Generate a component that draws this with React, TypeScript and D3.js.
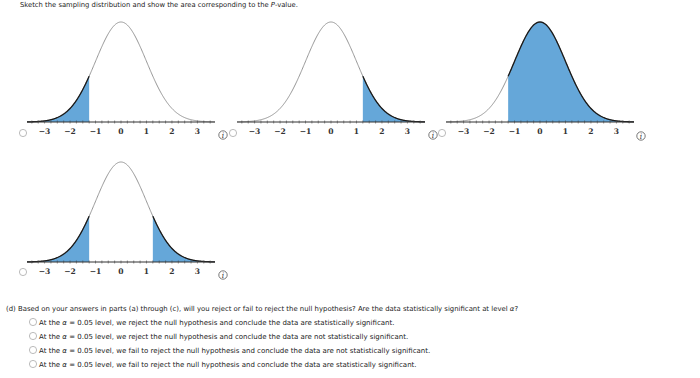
import React from "react";
import * as d3 from "d3";

const W = 700;
const H = 378;

const title = "Sketch the sampling distribution and show the area corresponding to the ";
const tickLabels = [-3, -2, -1, 0, 1, 2, 3];
const cutoff = 1.25;
const panelNames = ["left", "right", "above", "twoTail"];
const panelLeft = [27, 237, 446, 27];
const panelBase = [122, 122, 122, 262];
const question = "(d)  Based on your answers in parts (a) through (c), will you reject or fail to reject the null hypothesis? Are the data statistically significant at level ";
const options = [
  "we reject the null hypothesis and conclude the data are statistically significant.",
  "we reject the null hypothesis and conclude the data are not statistically significant.",
  "we fail to reject the null hypothesis and conclude the data are not statistically significant.",
  "we fail to reject the null hypothesis and conclude the data are statistically significant.",
];

const ZMAX = 3.69;
const pdf = (z: number) => Math.exp(-z * z / 2) / Math.sqrt(2 * Math.PI);
const zs = d3.range(-ZMAX, ZMAX + 0.0001, 0.02);
const minorTicks = d3.range(-3.5, 3.5001, 0.25);

function shadeRanges(type: string): [number, number][] {
  if (type === "left") return [[-ZMAX, -cutoff]];
  if (type === "right") return [[cutoff, ZMAX]];
  if (type === "above") return [[-cutoff, ZMAX]];
  return [[-ZMAX, -cutoff], [cutoff, ZMAX]];
}

function Panel({ type, left, base }: { type: string; left: number; base: number }) {
  const x = d3.scaleLinear().domain([-ZMAX, ZMAX]).range([left, left + 188]);
  const y = d3.scaleLinear().domain([0, pdf(0)]).range([base, base - 100]);
  const line = d3.line<number>().x((z) => x(z)).y((z) => y(pdf(z)));
  const area = d3.area<number>().x((z) => x(z)).y0(base).y1((z) => y(pdf(z)));
  const ranges = shadeRanges(type);
  return (
    <g>
      {ranges.map(([a, b], i) => {
        const pts = [a, ...zs.filter((z) => z > a && z < b), b];
        return <path key={"a" + i} d={area(pts) || ""} fill="#65a7d9" />;
      })}
      <path d={line(zs) || ""} fill="none" stroke="#8a8a8a" strokeWidth={0.9} />
      {ranges.map(([a, b], i) => {
        const pts = [a, ...zs.filter((z) => z > a && z < b), b];
        return <path key={"l" + i} d={line(pts) || ""} fill="none" stroke="#1a1a1a" strokeWidth={1.3} />;
      })}
      <line x1={x(-ZMAX)} x2={x(ZMAX)} y1={base} y2={base} stroke="#333" strokeWidth={1} />
      {minorTicks.map((t) => (
        <line key={t} x1={x(t)} x2={x(t)} y1={base - 1.5} y2={base + 1.5} stroke="#444" strokeWidth={0.6} />
      ))}
      {tickLabels.map((t) => (
        <text key={t} x={x(t)} y={base + 12} textAnchor="middle" fontFamily="DejaVu Serif" fontWeight={600} fontSize={7.6} fill="#333">
          {t < 0 ? "−" + Math.abs(t) : String(t)}
        </text>
      ))}
    </g>
  );
}

function Radio({ cx, cy }: { cx: number; cy: number }) {
  return <circle cx={cx} cy={cy} r={3.6} fill="#fff" stroke="#aaa" strokeWidth={0.8} />;
}

function Info({ cx, cy }: { cx: number; cy: number }) {
  return (
    <g>
      <circle cx={cx} cy={cy} r={4.2} fill="#fff" stroke="#555" strokeWidth={0.8} />
      <text x={cx} y={cy + 2.7} textAnchor="middle" fontFamily="DejaVu Serif" fontStyle="italic" fontSize={7.5} fill="#333">i</text>
    </g>
  );
}

export default function App() {
  const radios: [number, number][] = [[23, 133], [233, 133], [442, 133], [23, 272]];
  const infos: [number, number][] = [[223, 135], [433, 135], [641, 136], [223, 275]];
  return (
    <svg width={W} height={H} style={{ position: "absolute", left: 0, top: 0, background: "#fff" }}>
      <text x={20} y={7} fontFamily="DejaVu Sans" fontSize={6.8} fill="#222">
        {title}<tspan fontStyle="italic">P</tspan>-value.
      </text>
      {panelNames.map((p, i) => (
        <Panel key={p} type={p} left={panelLeft[i]} base={panelBase[i]} />
      ))}
      {radios.map(([cx, cy], i) => <Radio key={"r" + i} cx={cx} cy={cy} />)}
      {infos.map(([cx, cy], i) => <Info key={"i" + i} cx={cx} cy={cy} />)}
      <text x={6} y={311} fontFamily="DejaVu Sans" fontSize={6.9} fill="#222">
        {question}<tspan fontStyle="italic">α</tspan>?
      </text>
      {options.map((o, i) => (
        <g key={"o" + i}>
          <Radio cx={33} cy={322 + i * 14} />
          <text x={39} y={324.6 + i * 14} fontFamily="DejaVu Sans" fontSize={7.0} fill="#222">
            At the <tspan fontStyle="italic">α</tspan> = 0.05 level, {o}
          </text>
        </g>
      ))}
    </svg>
  );
}
